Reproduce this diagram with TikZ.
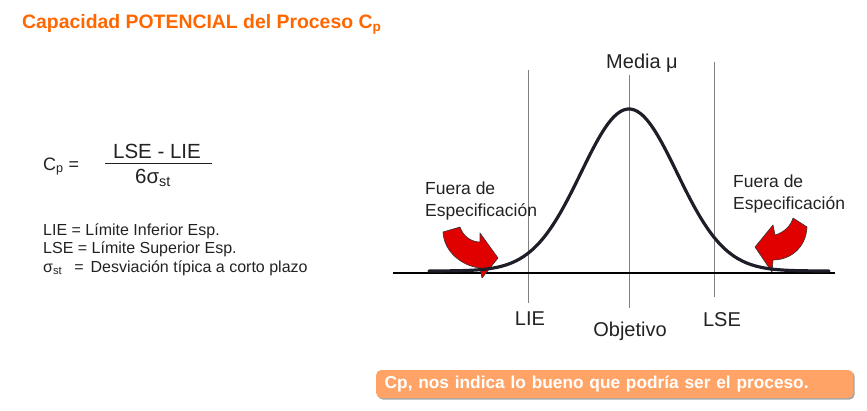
\documentclass[tikz,border=0pt]{standalone}
\usepackage{fontspec}
\setmainfont{Liberation Sans}
\usetikzlibrary{shadows}
\definecolor{titleorange}{RGB}{255,102,0}
\definecolor{noteorange}{RGB}{255,164,102}
\definecolor{arrowred}{RGB}{224,0,0}
\definecolor{curvedark}{RGB}{30,30,40}
\definecolor{textdark}{RGB}{34,34,34}
\tikzset{
  lbl/.style={inner sep=0pt,text=textdark},
  speclimit/.style={draw=gray,line width=0.9pt},
  redarrow/.style={fill=arrowred,draw=black!80,line width=0.6pt,line join=round},
  notebox/.style={fill=noteorange,rounded corners=5pt,text=white,
    font=\bfseries\fontsize{17.3}{20}\selectfont,minimum height=28pt,
    text width=460pt,inner xsep=8.5pt,inner ysep=0pt,align=left,
    drop shadow={shadow xshift=1.5pt,shadow yshift=-1.5pt,fill=black!35,opacity=1}}
}
\begin{document}
\begin{tikzpicture}[x=1pt,y=-1pt]
    \useasboundingbox (0,0) rectangle (867,410);
    % titulo
    \node[lbl,anchor=base west,text=titleorange,font=\bfseries\fontsize{19.4}{23}\selectfont] (titulo) at (22,28) {Capacidad POTENCIAL del Proceso C\textsubscript{p}};
    % formula
    \node[lbl,anchor=base west,font=\fontsize{18}{22}\selectfont] (cp) at (43,170) {C\textsubscript{p} =};
    \node[lbl,anchor=base,font=\fontsize{20.5}{24}\selectfont] (num) at (157,158) {LSE - LIE};
    \coordinate (fracL) at (105,163);
    \coordinate (fracR) at (212,163);
    \draw[textdark,line width=0.8pt] (fracL) -- (fracR);
    \node[lbl,anchor=base,font=\fontsize{20.5}{24}\selectfont] (den) at (153,183) {6σ\textsubscript{st}};
    % leyenda
    \node[lbl,anchor=base west,font=\fontsize{16}{18}\selectfont] (leyLIE) at (43,235) {LIE = Límite Inferior Esp.};
    \node[lbl,anchor=base west,font=\fontsize{16}{18}\selectfont] (leyLSE) at (43,253.5) {LSE = Límite Superior Esp.};
    \node[lbl,anchor=base west,font=\fontsize{16}{18}\selectfont] (leySigma) at (43,272) {σ\textsubscript{st}\hspace{12pt}=\hspace{7pt}Desviación típica a corto plazo};
    % limites y media
    \coordinate (lieTop) at (528,70);
    \coordinate (lieBot) at (528,303);
    \coordinate (medTop) at (629,75);
    \coordinate (medBot) at (629,308);
    \coordinate (lseTop) at (714,62);
    \coordinate (lseBot) at (714,297);
    \draw[speclimit] (lieTop) -- (lieBot);
    \draw[speclimit] (medTop) -- (medBot);
    \draw[speclimit] (lseTop) -- (lseBot);
    % eje
    \coordinate (ejeL) at (393,273);
    \coordinate (ejeR) at (835,273);
    \draw[black,line width=1.6pt] (ejeL) -- (ejeR);
    % flechas rojas
    \draw[redarrow] (443,232) -- (460,227) .. controls (463,236) and (471,242) .. (480,242) -- (480,233) -- (498,258) -- (482,278) -- (480,268) .. controls (462,266) and (444,252) .. (443,232) -- cycle;
    \draw[redarrow] (793,218) -- (807,227) .. controls (806,248) and (790,260) .. (773,260) -- (772,272) -- (755,247) -- (773,225) -- (775,235) .. controls (783,233) and (791,226) .. (793,218) -- cycle;
    % campana
    \draw[curvedark,line width=3.2pt,line cap=round] plot[domain=429:829,samples=120,smooth] (\x,{271-162*exp(-0.5*((\x-629)/48)*((\x-629)/48))});
    % etiquetas
    \node[lbl,anchor=base,font=\fontsize{20}{24}\selectfont] (media) at (642,68) {Media μ};
    \node[lbl,anchor=base,font=\fontsize{20}{24}\selectfont] (lieLbl) at (530,325) {LIE};
    \node[lbl,anchor=base,font=\fontsize{20}{24}\selectfont] (objLbl) at (630,336) {Objetivo};
    \node[lbl,anchor=base,font=\fontsize{20}{24}\selectfont] (lseLbl) at (722,326) {LSE};
    \node[lbl,anchor=north west,align=left,font=\fontsize{17.5}{22}\selectfont] (fueraL) at (425,182) {Fuera de\\Especificación};
    \node[lbl,anchor=north west,align=left,font=\fontsize{17.5}{22}\selectfont] (fueraR) at (733,175) {Fuera de\\Especificación};
    % nota
    \node[notebox,anchor=west] (nota) at (376,384) {Cp, nos indica lo bueno que podría ser el proceso.};
\end{tikzpicture}
\end{document}
